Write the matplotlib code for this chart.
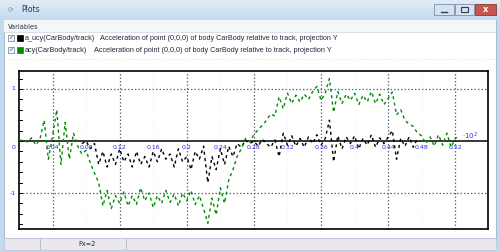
import numpy as np
import matplotlib
matplotlib.use('Agg')
import matplotlib.pyplot as plt
from matplotlib.patches import Rectangle

# ---- data (x step 0.005) ----
x_step = 0.005
green_acy = [
    0.00, 0.03, -0.02, 0.06, -0.08, 0.04, 0.40, -0.35, 0.10, 0.60,
    -0.45, 0.36, -0.35, 0.15, -0.10, -0.25, -0.18, -0.42, -0.62, -0.80,
    -1.25, -0.95, -1.30, -1.05, -1.20, -0.98, -1.25, -1.05, -1.22, -0.90,
    -1.15, -1.00, -1.28, -1.05, -1.20, -0.95, -1.18, -1.02, -1.25, -1.00,
    -1.15, -0.95, -1.22, -1.05, -1.30, -1.58, -1.10, -1.42, -0.90, -1.20,
    -0.75, -0.55, -0.30, -0.15, 0.05, -0.02, 0.12, 0.22, 0.30, 0.40,
    0.52, 0.48, 0.85, 0.62, 0.92, 0.72, 0.88, 0.75, 0.90, 0.80,
    0.95, 1.05, 0.78, 0.92, 1.20, 0.55, 0.95, 0.72, 0.90, 0.78,
    0.92, 0.70, 0.88, 0.75, 0.95, 0.72, 0.90, 0.70, 0.82, 0.94,
    0.50, 0.60, 0.40, 0.32, 0.28, 0.15, 0.10, -0.05, 0.08, -0.10,
    0.12, -0.08, 0.15, -0.12, 0.05, 0.10,
]
black_start = 15
black_a_ucy = [
    -0.05, 0.00, -0.15, -0.05, -0.45, -0.20, -0.50, -0.25, -0.45, -0.15,
    -0.40, -0.25, -0.50, -0.20, -0.45, -0.30, -0.50, -0.20, -0.40, -0.15,
    -0.35, -0.25, -0.50, -0.15, -0.40, -0.30, -0.55, -0.20, -0.35, -0.10,
    -0.80, -0.30, -0.55, -0.15, -0.45, -0.10, -0.30, -0.05, -0.12, 0.02,
    -0.05, 0.00, -0.10, 0.03, -0.05, -0.12, 0.02, -0.30, 0.15, -0.08,
    0.10, -0.10, 0.05, -0.12, 0.08, -0.05, 0.12, -0.08, 0.05, 0.40,
    -0.40, 0.10, -0.15, 0.08, -0.05, 0.10, -0.15, 0.05, -0.08, 0.12,
    -0.12, 0.06, -0.05, 0.08, 0.20, -0.35, 0.05, -0.10, 0.08, -0.12,
    0.05,
]
x_ticks = [0.04, 0.08, 0.12, 0.16, 0.2, 0.24, 0.28, 0.32, 0.36, 0.4, 0.44, 0.48, 0.52]
x_tick_labels = ['0.04', '0.08', '0.12', '0.16', '0.2', '0.24', '0.28', '0.32',
                 '0.36', '0.4', '0.44', '0.48', '0.52']
var_names = ['a_ucy(CarBody/track)', 'acy(CarBody/track)']
var_desc = 'Acceleration of point (0,0,0) of body CarBody relative to track, projection Y'

x_green = np.arange(len(green_acy)) * x_step
x_black = (black_start + np.arange(len(black_a_ucy))) * x_step

W, H = 500, 252
fig = plt.figure(figsize=(W / 100, H / 100), dpi=100)

# ---- window chrome, drawn in pixel coords ----
bg = fig.add_axes([0, 0, 1, 1])
bg.set_xlim(0, W)
bg.set_ylim(H, 0)
bg.axis('off')
grad = np.linspace(0, 1, 60).reshape(-1, 1)
bg.imshow(grad, extent=(0, W, 20, 0), cmap=matplotlib.colors.LinearSegmentedColormap.from_list(
    'tb', ['#e2ecf8', '#c6d9ee']), aspect='auto', zorder=0)
bg.add_patch(Rectangle((0, 20), W, H - 20, fc='#c4d8ee', ec='none', zorder=0))
bg.add_patch(Rectangle((4, 20), 492, 218, fc='white', ec='#9cb2cc', lw=0.6, zorder=1))
bg.add_patch(Rectangle((4, 20), 492, 12, fc='#f4f6f8', ec='none', zorder=1))
bg.plot([4, 496], [32, 32], color='#d4dae2', lw=0.6, zorder=2)
bg.plot([4, 496], [59, 59], color='#e4dde4', lw=0.6, ls=':', zorder=2)

bg.text(21, 10, 'Plots', fontsize=5.5, color='#1e3a5c', va='center', zorder=3)
bg.text(8, 10, '⟳', fontsize=5, color='#7890b0', va='center', zorder=3)
bg.add_patch(Rectangle((434, 4), 20, 11, fc='#d6e2ef', ec='#7b8fab', lw=0.6, zorder=3))
bg.add_patch(Rectangle((455, 4), 19, 11, fc='#d6e2ef', ec='#7b8fab', lw=0.6, zorder=3))
bg.add_patch(Rectangle((475, 4), 21, 11, fc='#c9564c', ec='#8a3a36', lw=0.6, zorder=3))
bg.plot([441, 447], [12, 12], color='#2c3e58', lw=1, zorder=4)
bg.add_patch(Rectangle((461, 7), 7, 5, fc='none', ec='#2c3e58', lw=0.8, zorder=4))
bg.text(485.5, 9.5, 'x', fontsize=6, color='white', ha='center', va='center',
        weight='bold', zorder=4)

bg.text(8, 27, 'Variables', fontsize=4.8, color='#2a3a50', va='center', zorder=3)
for k, (name, col) in enumerate(zip(var_names, ['black', '#008a00'])):
    yc = 38 + 12 * k
    bg.add_patch(Rectangle((8, yc - 3), 6, 6, fc='#f4f6fa', ec='#8090a8', lw=0.6, zorder=3))
    bg.text(11, yc, '✓', fontsize=4.5, color='#304a90', ha='center', va='center', zorder=4)
    bg.add_patch(Rectangle((17, yc - 3), 6, 6, fc=col, ec=col, lw=0.5, zorder=3))
    bg.text(25, yc, name, fontsize=5.2, color='#202838', va='center', zorder=3,
            family='Liberation Sans')
    bg.text(100 if k == 0 else 94, yc, var_desc, fontsize=5.2, color='#202838',
            va='center', zorder=3, family='Liberation Sans')

# status bar
bg.add_patch(Rectangle((4, 238), 492, 12, fc='#ebe7ee', ec='#b8c4d4', lw=0.5, zorder=1))
for sx in (40, 126):
    bg.plot([sx, sx], [239, 249], color='#b4b8c4', lw=0.6, zorder=2)
bg.text(78, 244, 'Fx=2', fontsize=4.8, color='#202838', va='center', zorder=3)

# ---- plot ----
x0, x1 = 0.0, 0.559
y0, y1 = -1.692, 1.346
ax = fig.add_axes([19 / W, 1 - 229 / H, (488 - 19) / W, (229 - 71) / H])
ax.set_xlim(x0, x1)
ax.set_ylim(y0, y1)
ax.set_facecolor('white')
for s in ax.spines.values():
    s.set_linewidth(1.2)
    s.set_color('black')
ax.set_xticks([])
ax.set_yticks([])

for gx in np.arange(0.08, 0.56, 0.08):
    ax.axvline(gx, color='#eeeeee', lw=0.5, ls=':', zorder=0)
for gx in np.arange(0.04, 0.56, 0.08):
    ax.axvline(gx, color='#5e6a78', lw=0.9, ls=(0, (1.2, 1.6)), zorder=1)
for gy in (1, -1):
    ax.axhline(gy, color='#5e6a78', lw=0.9, ls=(0, (1.2, 1.6)), zorder=1)
ax.axhline(0, color='black', lw=1.1, zorder=2)

# little y ticks on the left edge
for ty in np.arange(-1.6, 1.35, 0.2):
    ax.plot([x0, x0 + 0.003], [ty, ty], color='black', lw=0.7, zorder=3, clip_on=False)

ax.plot(x_black, black_a_ucy, color='black', lw=1.0, ls=(0, (2.2, 2.4)), zorder=4)
ax.plot(x_green, green_acy, color='#008a00', lw=1.0, ls=(0, (2.2, 2.4)), zorder=5)

lab_col = '#2b2be6'
for tx, tl in zip(x_ticks, x_tick_labels):
    ax.text(tx, -0.13, tl, fontsize=4.5, color=lab_col, ha='center', va='center', zorder=6)
ax.text(-0.004, -0.13, '0', fontsize=4.5, color=lab_col, ha='right', va='center', clip_on=False)
ax.text(-0.004, 1.0, '1', fontsize=4.5, color=lab_col, ha='right', va='center', clip_on=False)
ax.text(-0.004, -1.0, '-1', fontsize=4.5, color=lab_col, ha='right', va='center', clip_on=False)
ax.text(0.538, 0.08, r'$\cdot10^2$', fontsize=5, color=lab_col, ha='center', va='center')

fig.savefig('out.png', dpi=100)
